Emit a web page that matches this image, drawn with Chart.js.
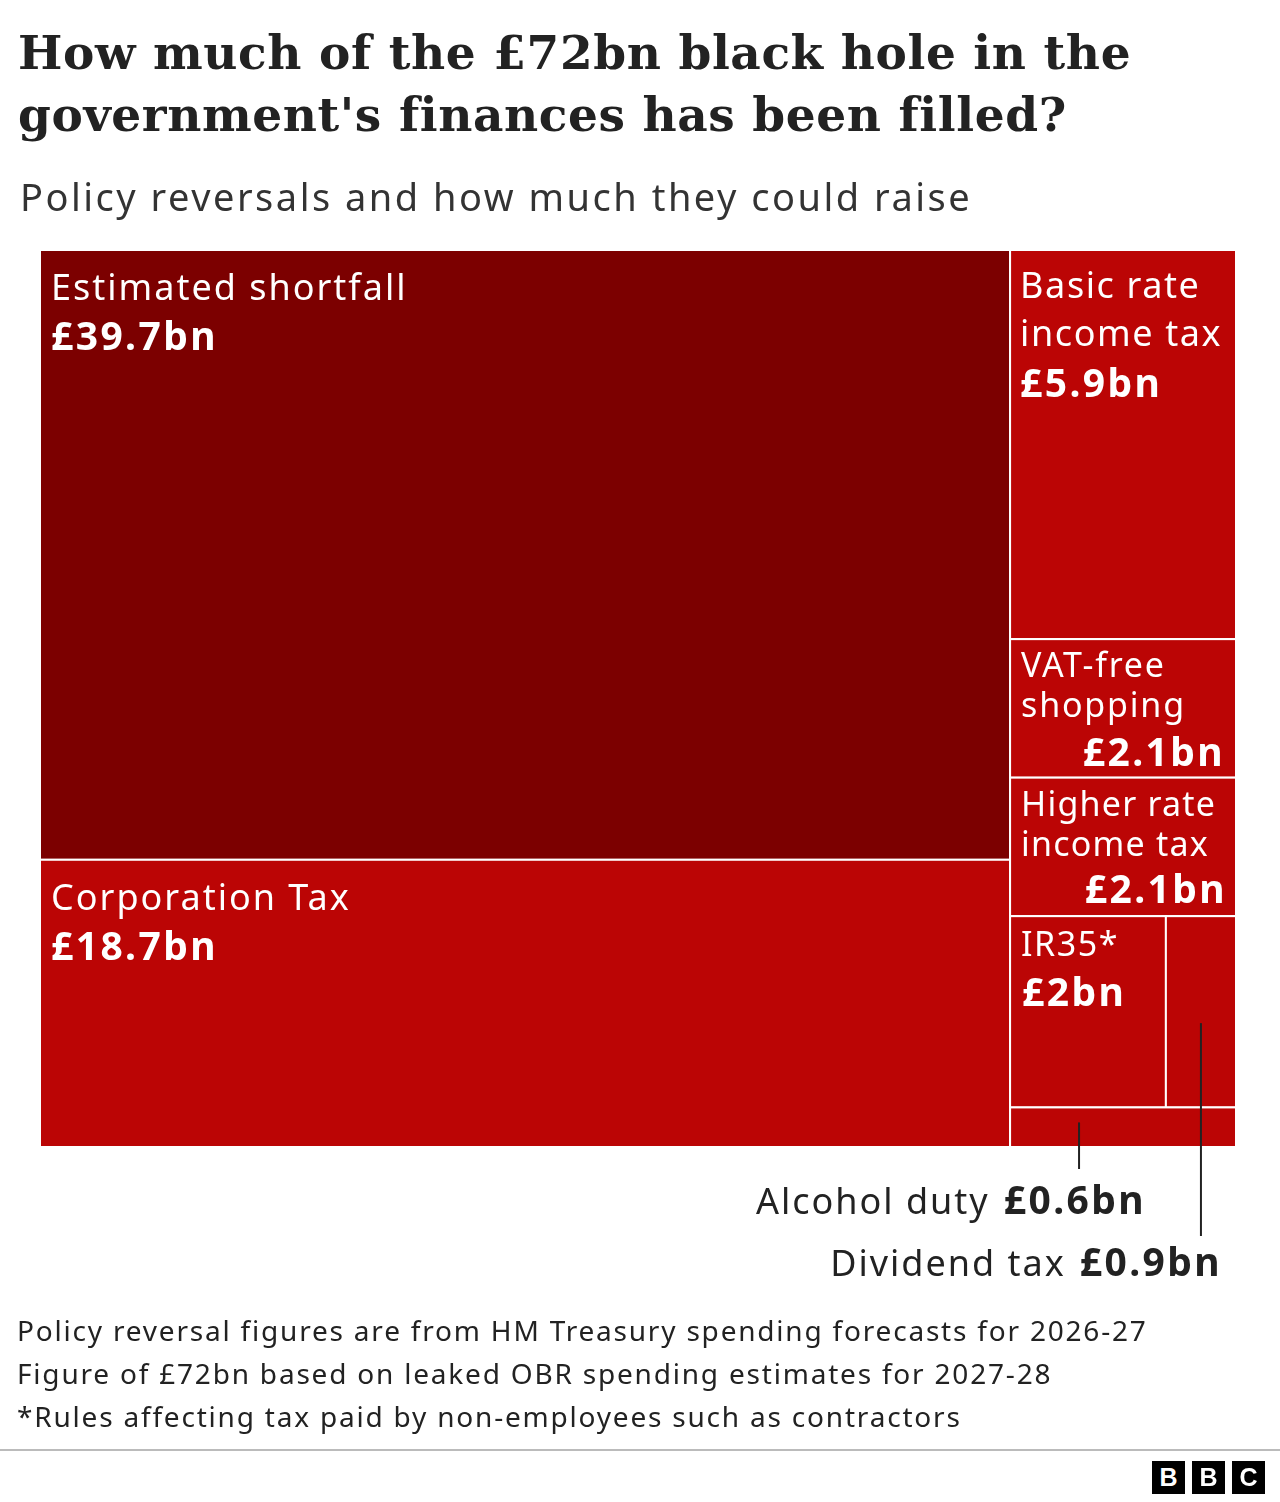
<!DOCTYPE html>
<html><head><meta charset="utf-8">
<script src="https://cdn.jsdelivr.net/npm/chart.js@4"></script>
<style>
body{margin:0;background:#fff;width:1280px;height:1502px;position:relative;overflow:hidden;font-family:"Noto Sans",sans-serif}
#t{position:absolute;left:18px;top:22px;font:bold 47px "DejaVu Serif",serif;color:#222;line-height:62px;letter-spacing:0.6px}
#s{position:absolute;left:20px;top:170px;font-size:38px;color:#333;letter-spacing:2.5px}
#f{position:absolute;left:17px;top:1309px;font-size:28px;color:#222;line-height:43px;letter-spacing:1.8px}
#rule{position:absolute;left:0;top:1449px;width:1280px;height:2px;background:#bbb}
.b{position:absolute;top:1461px;width:33px;height:33px;background:#000;color:#fff;font:bold 25px "Liberation Sans",sans-serif;text-align:center;line-height:33px}
canvas{position:absolute;left:0;top:0}
</style></head><body>
<canvas id="c" width="1280" height="1502"></canvas>
<div id="t">How much of the £72bn black hole in the<br>government's finances has been filled?</div>
<div id="s">Policy reversals and how much they could raise</div>
<div id="f">Policy reversal figures are from HM Treasury spending forecasts for 2026-27<br>Figure of £72bn based on leaked OBR spending estimates for 2027-28<br>*Rules affecting tax paid by non-employees such as contractors</div>
<div id="rule"></div>
<div class="b" style="left:1152px">B</div><div class="b" style="left:1192px">B</div><div class="b" style="left:1232px">C</div>
<script>
const categories=["Estimated shortfall","Corporation Tax","Basic rate income tax","VAT-free shopping","Higher rate income tax","IR35*","Dividend tax","Alcohol duty"];
const values=[39.7,18.7,5.9,2.1,2.1,2,0.9,0.6];
const valueLabels=["£39.7bn","£18.7bn","£5.9bn","£2.1bn","£2.1bn","£2bn","£0.9bn","£0.6bn"];
const total=values.reduce((a,b)=>a+b,0);
function layout(){
  const r=[];
  const lw=values[0]+values[1];
  let y=1;
  [0,1].forEach(i=>{const h=values[i]/lw;r[i]={x0:0,x1:lw,y0:y-h,y1:y};y-=h;});
  const rw=total-lw;y=1;
  [2,3,4].forEach(i=>{const h=values[i]/rw;r[i]={x0:lw,x1:total,y0:y-h,y1:y};y-=h;});
  const rowSum=values[5]+values[6];const h=rowSum/rw;
  const xm=lw+values[5]/rowSum*rw;
  r[5]={x0:lw,x1:xm,y0:y-h,y1:y};r[6]={x0:xm,x1:total,y0:y-h,y1:y};y-=h;
  r[7]={x0:lw,x1:total,y0:y-values[7]/rw,y1:y};
  return r;
}
const colors=["#7c0000","#bb0505","#bb0505","#bb0505","#bb0505","#bb0505","#bb0505","#bb0505"];
const tree={id:'tree',afterDatasetsDraw(ch){
  const c=ch.ctx,X=ch.scales.x,Y=ch.scales.y,R=layout();
  R.forEach((r,i)=>{
    const l=X.getPixelForValue(r.x0),rt=X.getPixelForValue(r.x1),t=Y.getPixelForValue(r.y1),b=Y.getPixelForValue(r.y0);
    c.fillStyle=colors[i];c.fillRect(l,t,rt-l,b-t);
    c.strokeStyle="#fff";c.lineWidth=2;c.strokeRect(l,t,rt-l,b-t);
    r.px={l,rt,t,b};
  });
  c.fillStyle="#fff";c.textBaseline="alphabetic";
  const nf='36px "Noto Sans"',bf='bold 39px "Noto Sans"',sf='34px "Noto Sans"';
  function txt(s,x,y,f,al,ls){c.font=f;c.letterSpacing=(ls==null?2:ls)+'px';c.textAlign=al||'left';c.fillText(s,x,y);}
  let p=R[0].px;txt("Estimated shortfall",p.l+11,p.t+50,nf);txt(valueLabels[0],p.l+11,p.t+100,bf,'left',2.4);
  p=R[1].px;txt("Corporation Tax",p.l+11,p.t+50,nf);txt(valueLabels[1],p.l+11,p.t+100,bf,'left',2.4);
  p=R[2].px;txt("Basic rate",p.l+10,p.t+48,nf,'left',1.6);txt("income tax",p.l+10,p.t+96,nf,'left',1.6);txt(valueLabels[2],p.l+10,p.t+147,bf,'left',2.4);
  p=R[3].px;txt("VAT-free",p.l+11,p.t+38,sf,'left',1.8);txt("shopping",p.l+11,p.t+78,sf,'left',1.8);txt(valueLabels[3],p.rt-11,p.t+127,bf,'right',2.4);
  p=R[4].px;txt("Higher rate",p.l+11,p.t+38,sf,'left',1.2);txt("income tax",p.l+11,p.t+78,sf,'left',1.2);txt(valueLabels[4],p.rt-9,p.t+125,bf,'right',2.4);
  p=R[5].px;txt("IR35*",p.l+11,p.t+40,sf,'left',1.5);txt(valueLabels[5],p.l+12,p.t+90,bf,'left',2.4);
  c.strokeStyle="#222";c.lineWidth=2;c.fillStyle="#222";
  p=R[7].px;let cx=(p.l+p.rt)/2-44;
  c.beginPath();c.moveTo(cx,p.t+15);c.lineTo(cx,1169);c.stroke();
  c.font=bf;c.letterSpacing='2.4px';const w1=c.measureText(valueLabels[7]).width;
  txt(valueLabels[7],1146,1214,bf,'right',2.4);txt("Alcohol duty",1146-w1-14,1214,nf,'right',2);
  p=R[6].px;cx=(p.l+p.rt)/2;
  c.beginPath();c.moveTo(cx,p.t+107);c.lineTo(cx,1236);c.stroke();
  c.font=bf;c.letterSpacing='2.4px';const w2=c.measureText(valueLabels[6]).width;
  txt(valueLabels[6],1222,1276,bf,'right',2.4);txt("Dividend tax",1222-w2-14,1276,nf,'right',2);
}};
new Chart(document.getElementById('c'),{type:'scatter',
  data:{datasets:[{data:[],pointRadius:0}]},
  options:{responsive:false,animation:false,devicePixelRatio:1,
    layout:{padding:{left:40,right:44,top:250,bottom:355}},
    plugins:{legend:{display:false},tooltip:{enabled:false}},
    scales:{x:{type:'linear',min:0,max:total,display:false},y:{type:'linear',min:0,max:1,display:false}}},
  plugins:[tree]});
</script>
</body></html>
